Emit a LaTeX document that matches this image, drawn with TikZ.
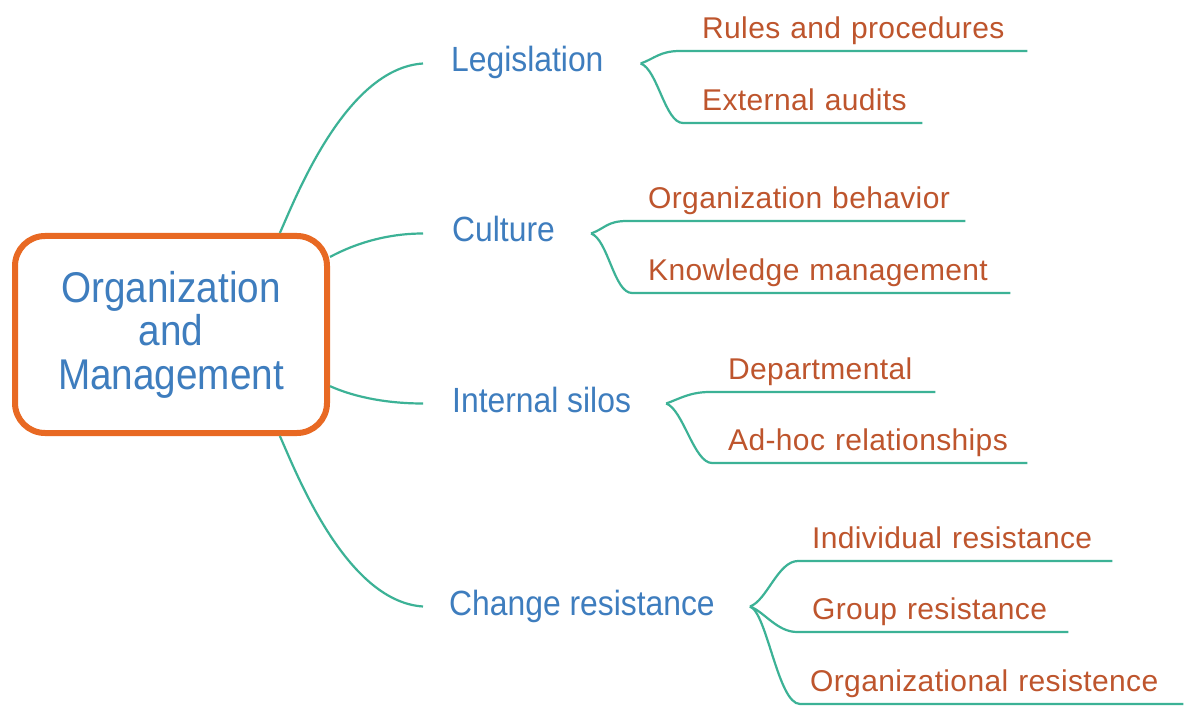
\documentclass[tikz,border=0pt]{standalone}
\usepackage{fontspec}
\setmainfont{Liberation Sans}
\newfontfamily\omfont[FakeStretch=0.9]{Liberation Sans}
\newfontfamily\parfont[FakeStretch=0.91]{Liberation Sans}
\newfontfamily\kidfont[LetterSpace=1.2]{Liberation Sans}
\usetikzlibrary{calc}
\definecolor{txtblue}{RGB}{62,125,190}
\definecolor{txtbrown}{RGB}{190,85,45}
\definecolor{linkteal}{RGB}{60,178,150}
\definecolor{boxorange}{RGB}{232,105,35}
\tikzset{
 rootbox/.style={draw=boxorange, line width=6pt, rounded corners=30pt, minimum width=312pt, minimum height=197pt, align=center, text=txtblue, font=\omfont\fontsize{43pt}{43.5pt}\selectfont, inner sep=0pt},
 parentnode/.style={text=txtblue, font=\parfont\fontsize{35pt}{40pt}\selectfont, inner sep=0pt, text height=25pt, text depth=8pt, anchor=base west},
 childnode/.style={text=txtbrown, font=\kidfont\fontsize{30pt}{34pt}\selectfont, inner ysep=12pt, text depth=0pt, align=left, anchor=south west},
 link/.style={draw=linkteal, line width=2.2pt}
}
\begin{document}
\begin{tikzpicture}[x=1pt,y=-1pt]
\useasboundingbox[fill=white] (0,0) rectangle (1196,711);

% root
\node[rootbox] (om) at (171,334.5) {Organization\\and\\Management};

% parents
\node[parentnode] (leg) at (451,72) {Legislation};
\node[parentnode] (cul) at (452,242) {Culture};
\node[parentnode] (sil) at (452,412) {Internal silos};
\node[parentnode] (chg) at (449,615) {Change resistance};

\coordinate (t1) at ([xshift=37pt]leg.east);
\coordinate (t2) at ([xshift=36pt]cul.east);
\coordinate (t3) at ([xshift=35pt]sil.east);
\coordinate (t4) at ([xshift=35pt]chg.east);

% children
\node[childnode, inner xsep=22pt, text width=303pt] (c11) at (680,51) {\mbox{Rules and procedures}};
\node[childnode, inner xsep=19pt, text width=201pt] (c12) at (683,123) {\mbox{External audits}};
\node[childnode, inner xsep=21pt, text width=296pt] (c21) at (627,221) {\mbox{Organization behavior}};
\node[childnode, inner xsep=16pt, text width=346pt] (c22) at (632,293) {\mbox{Knowledge management}};
\node[childnode, inner xsep=18pt, text width=189pt] (c31) at (710,392) {\mbox{Departmental}};
\node[childnode, inner xsep=16pt, text width=283pt] (c32) at (712,463) {\mbox{Ad-hoc relationships}};
\node[childnode, inner xsep=14pt, text width=286pt] (c41) at (798,561) {\mbox{Individual resistance}};
\node[childnode, inner xsep=15pt, text width=241pt] (c42) at (797,632) {\mbox{Group resistance}};
\node[childnode, inner xsep=10pt, text width=363pt] (c43) at (800,704) {\mbox{Organizational resistence}};

% root to parents
\draw[link] (om.43) .. controls +(15,-33) and +(-78,5) .. ([xshift=-28pt]leg.west);
\draw[link] (om.26) .. controls +(28,-15) and +(-33,0) .. ([xshift=-29pt]cul.west);
\draw[link] (om.-18) .. controls +(27,12) and +(-33,0) .. ([xshift=-29pt]sil.west);
\draw[link] (om.-43) .. controls +(15,33) and +(-78,-5) .. ([xshift=-26pt]chg.west);

% parents to children
\draw[link] (t1) .. controls +(14,-5) and +(-20,0) .. (c11.south west) -- (c11.south east);
\draw[link] (t1) .. controls +(17,6) and +(-18,0) .. (c12.south west) -- (c12.south east);
\draw[link] (t2) .. controls +(14,-5) and +(-20,0) .. (c21.south west) -- (c21.south east);
\draw[link] (t2) .. controls +(17,6) and +(-18,0) .. (c22.south west) -- (c22.south east);
\draw[link] (t3) .. controls +(14,-5) and +(-20,0) .. (c31.south west) -- (c31.south east);
\draw[link] (t3) .. controls +(17,6) and +(-18,0) .. (c32.south west) -- (c32.south east);
\draw[link] (t4) .. controls +(17,-6) and +(-20,0) .. (c41.south west) -- (c41.south east);
\draw[link] (t4) .. controls +(14,5) and +(-20,0) .. (c42.south west) -- (c42.south east);
\draw[link] (t4) .. controls +(17,6) and +(-22,0) .. (c43.south west) -- (c43.south east);
\end{tikzpicture}
\end{document}
